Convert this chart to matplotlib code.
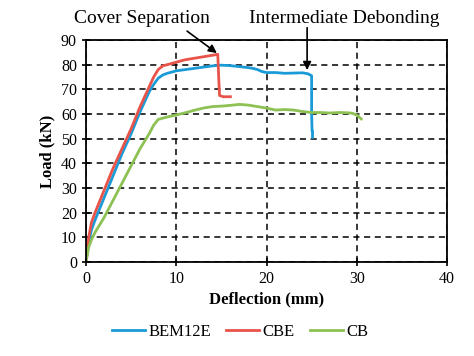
import matplotlib
matplotlib.use("Agg")
import matplotlib.pyplot as plt

plt.rcParams['font.family'] = ['Liberation Serif', 'DejaVu Serif']

bem_x = [0, 0.3, 0.6, 1, 2, 3, 4, 5, 6, 7, 7.5, 8, 8.5, 9, 10, 11, 12, 13, 14, 15, 16, 17, 18, 18.5, 19, 19.5, 20, 21, 22, 23, 24, 24.6, 25.0, 25.0, 25.05, 25.1, 25.1]
bem_y = [0, 8, 13, 17, 26, 35, 44, 52, 61, 69, 72, 74.5, 75.8, 76.5, 77.5, 78, 78.5, 79, 79.5, 79.8, 79.6, 79.2, 78.8, 78.5, 78, 77.2, 76.8, 76.8, 76.5, 76.6, 76.7, 76.3, 75.5, 60, 53, 53, 50.5]

cbe_x = [0, 0.3, 0.6, 1, 2, 3, 4, 5, 6, 7, 7.5, 8, 8.5, 9, 10, 11, 12, 13, 14, 14.6, 14.7, 14.8, 15.2, 16.0]
cbe_y = [0, 10, 16, 20, 29, 38, 46, 54, 63, 71, 75, 78, 79.5, 80, 81, 82, 82.6, 83.2, 83.8, 84.2, 75, 67.5, 67, 67]

cb_x = [0, 0.3, 0.6, 1, 2, 3, 4, 5, 6, 7, 7.5, 8, 9, 10, 11, 12, 13, 14, 15, 16, 17, 18, 19, 20, 21, 22, 23, 24, 25, 26, 27, 28, 29, 29.5, 30, 30.5]
cb_y = [0, 6, 9, 12, 18, 25, 32, 39, 46, 52, 55.5, 57.8, 58.8, 59.6, 60.5, 61.5, 62.4, 63, 63.2, 63.5, 63.9, 63.6, 63, 62.4, 61.6, 61.8, 61.6, 61, 60.6, 60.6, 60.4, 60.6, 60.5, 60.3, 59.6, 58]

series_names = ['BEM12E', 'CBE', 'CB']
colors = ['#1a9bd7', '#e8534a', '#8dc153']

fig = plt.figure(figsize=(4.74, 3.56), dpi=100)
ax = fig.add_axes([86/474, 1-262/356, (447-86)/474, (262-40)/356])

ax.plot(bem_x, bem_y, color=colors[0], lw=2, label=series_names[0])
ax.plot(cbe_x, cbe_y, color=colors[1], lw=2, label=series_names[1])
ax.plot(cb_x, cb_y, color=colors[2], lw=2, label=series_names[2])

ax.set_xlim(0, 40)
ax.set_ylim(0, 90)
ax.set_xticks([0, 10, 20, 30, 40])
ax.set_yticks(range(0, 91, 10))
ax.grid(True, color='black', linestyle=(0, (4, 3)), linewidth=1.1)
for s in ax.spines.values():
    s.set_linewidth(1.3)
    s.set_color('black')
ax.tick_params(direction='inout', length=6, width=1.2, labelsize=11.5, colors='black')
ax.set_xlabel('Deflection (mm)', fontsize=12, fontweight='bold', labelpad=3)
ax.set_ylabel('Load (kN)', fontsize=12, fontweight='bold', labelpad=4)

ax.text(6.2, 98.9, 'Cover Separation', fontsize=14, ha='center', va='center', clip_on=False)
ax.text(28.6, 98.9, 'Intermediate Debonding', fontsize=14, ha='center', va='center', clip_on=False)
arrow = dict(arrowstyle='-|>', color='black', lw=1.2, mutation_scale=12, shrinkA=0, shrinkB=0)
ax.annotate('', xy=(14.5, 84.7), xytext=(11.2, 93.6), annotation_clip=False, arrowprops=arrow)
ax.annotate('', xy=(24.5, 77.8), xytext=(24.5, 95.0), annotation_clip=False, arrowprops=arrow)

leg = fig.legend(loc='center', bbox_to_anchor=(240/474, 1-332/356), ncol=3,
                 frameon=False, fontsize=12, handlelength=2.0, columnspacing=0.9,
                 handletextpad=0.2)

fig.savefig('out.png', dpi=100)
